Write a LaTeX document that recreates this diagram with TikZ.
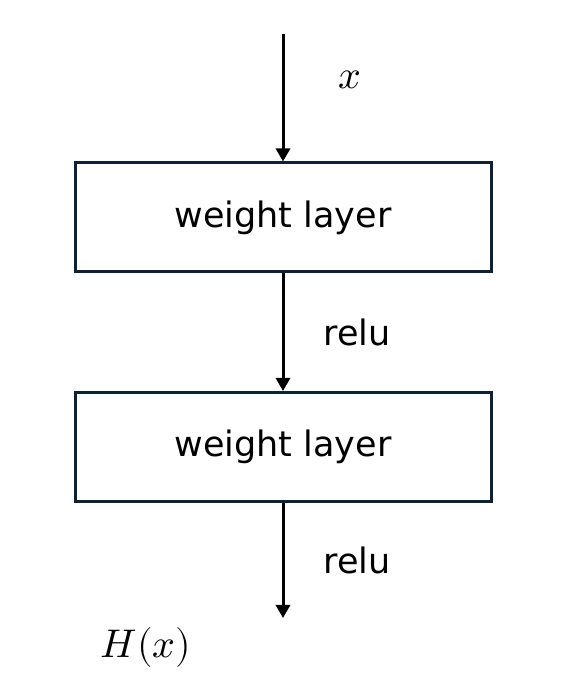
\documentclass[tikz,border=0pt]{standalone}
\usepackage{fontspec}
\usepackage{unicode-math}
\setmainfont{DejaVu Sans}
\setmathfont{Latin Modern Math}
\usetikzlibrary{arrows.meta}
\definecolor{boxline}{HTML}{0E2233}
\tikzset{
  layerbox/.style={draw=boxline, line width=3pt, minimum width=416pt, minimum height=109pt, inner sep=0pt, font=\fontsize{35}{41}\selectfont},
  lbl/.style={inner sep=0pt, font=\fontsize{35}{41}\selectfont},
  mlbl/.style={inner sep=0pt, font=\fontsize{40}{46}\selectfont},
  flow/.style={line width=3pt, -{Triangle[width=14pt,length=13pt]}}
}
\begin{document}
\begin{tikzpicture}[x=1pt,y=1pt]
\useasboundingbox[fill=white] (0,0) rectangle (578,696);
\coordinate (in) at (283,662);
\coordinate (out) at (283,78);
\node[layerbox] (w1) at (283,478.5) {weight layer};
\node[layerbox] (w2) at (283,249) {weight layer};
\node[mlbl] (xl) at (350,616) {$x$};
\node[lbl] (r1) at (357,364) {relu};
\node[lbl] (r2) at (357,136) {relu};
\node[mlbl] (hx) at (146,48) {$H(x)$};
\draw[flow] (in) -- (w1.north);
\draw[flow] (w1.south) -- (w2.north);
\draw[flow] (w2.south) -- (out);
\end{tikzpicture}
\end{document}
